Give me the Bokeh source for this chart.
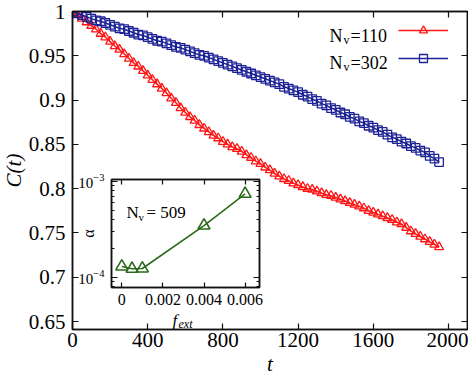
import math
from bokeh.plotting import figure
from bokeh.models import (Range1d, LinearAxis, LogAxis, FixedTicker, LogTickFormatter,
                          CustomJSTickFormatter, Label, Legend, LegendItem, Column)
from bokeh.embed import file_html
from bokeh.resources import INLINE

# ---------------- data ----------------
t = [0, 25, 50, 75, 100, 125, 150, 175, 200, 225, 250, 275, 300, 325, 350, 375,
     400, 425, 450, 475, 500, 525, 550, 575, 600, 625, 650, 675, 700, 725, 750, 775,
     800, 825, 850, 875, 900, 925, 950, 975, 1000, 1025, 1050, 1075, 1100, 1125, 1150,
     1175, 1200, 1225, 1250, 1275, 1300, 1325, 1350, 1375, 1400, 1425, 1450, 1475,
     1500, 1525, 1550, 1575, 1600, 1625, 1650, 1675, 1700, 1725, 1750, 1775, 1800,
     1825, 1850, 1875, 1900, 1925, 1950]

c_nv110 = [1.000, 0.997, 0.992, 0.988, 0.984, 0.980, 0.975, 0.971, 0.966, 0.961,
           0.957, 0.952, 0.947, 0.942, 0.938, 0.933, 0.928, 0.923, 0.918, 0.913,
           0.908, 0.902, 0.897, 0.891, 0.886, 0.881, 0.877, 0.872, 0.868, 0.864,
           0.860, 0.857, 0.853, 0.850, 0.847, 0.845, 0.842, 0.838, 0.835, 0.831,
           0.828, 0.824, 0.821, 0.817, 0.814, 0.811, 0.809, 0.806, 0.804, 0.802,
           0.800, 0.799, 0.797, 0.795, 0.793, 0.792, 0.790, 0.788, 0.786, 0.784,
           0.782, 0.780, 0.778, 0.775, 0.773, 0.771, 0.769, 0.767, 0.765, 0.762,
           0.760, 0.756, 0.752, 0.749, 0.746, 0.743, 0.740, 0.737, 0.734]

c_nv302 = [1.000, 0.998, 0.996, 0.994, 0.992, 0.990, 0.989, 0.987, 0.985, 0.983,
           0.981, 0.980, 0.978, 0.976, 0.974, 0.973, 0.971, 0.969, 0.967, 0.966,
           0.964, 0.962, 0.960, 0.959, 0.957, 0.955, 0.953, 0.951, 0.950, 0.948,
           0.946, 0.944, 0.942, 0.940, 0.938, 0.936, 0.934, 0.932, 0.930, 0.928,
           0.926, 0.924, 0.922, 0.920, 0.918, 0.915, 0.913, 0.911, 0.909, 0.906,
           0.904, 0.901, 0.899, 0.896, 0.894, 0.891, 0.889, 0.886, 0.884, 0.881,
           0.879, 0.876, 0.874, 0.871, 0.869, 0.866, 0.864, 0.861, 0.858, 0.856,
           0.853, 0.851, 0.848, 0.846, 0.843, 0.841, 0.837, 0.834, 0.830]

f_ext = [0.0, 0.0005, 0.001, 0.004, 0.006]
alpha = [1.30e-4, 1.23e-4, 1.24e-4, 3.46e-4, 7.38e-4]

x_ticks = [0, 400, 800, 1200, 1600, 2000]
y_ticks = [0.65, 0.7, 0.75, 0.8, 0.85, 0.9, 0.95, 1.0]
inset_x_ticks = [0, 0.002, 0.004, 0.006]
inset_y_ticks = [1e-4, 1e-3]
inset_y_minor = [8e-5, 9e-5, 2e-4, 3e-4, 4e-4, 5e-4, 6e-4, 7e-4, 8e-4, 9e-4]

legend_110 = ["N", "v", "=110"]
legend_302 = ["N", "v", "=302"]
inset_note = ["N", "v", "= 509"]

# ---------------- style ----------------
FONT = "Liberation Serif"
RED = "#ff1515"
BLUE = "#1c2296"
GREEN = "#2b6a1c"
AX = "#111111"

num_fmt = CustomJSTickFormatter(code="return String(parseFloat(tick.toFixed(4)));")
blank_fmt = CustomJSTickFormatter(code="return '';")

p = figure(frame_width=395, frame_height=318,
           x_range=Range1d(0, 2101), y_range=Range1d(0.641, 1.0),
           output_backend="svg", toolbar_location=None,
           min_border_left=72, min_border_right=3, min_border_top=11, min_border_bottom=53,
           margin=(0, 0, 0, -4))
p.grid.visible = False
p.outline_line_color = AX
p.outline_line_width = 1.5
p.background_fill_color = "white"
p.border_fill_color = "white"

def style_axis(ax, size, standoff, ticker, fmt, tick_len=6):
    ax.ticker = ticker
    ax.formatter = fmt
    ax.major_tick_in = tick_len
    ax.major_tick_out = 0
    ax.minor_tick_in = 0
    ax.minor_tick_out = 0
    ax.axis_line_color = AX
    ax.axis_line_width = 1.5
    ax.major_tick_line_color = AX
    ax.major_tick_line_width = 1.2
    ax.minor_tick_line_color = AX
    ax.major_label_text_font = FONT
    ax.major_label_text_font_size = size
    ax.major_label_text_color = "black"
    ax.major_label_standoff = standoff

style_axis(p.xaxis[0], "21px", 3, FixedTicker(ticks=x_ticks), num_fmt)
style_axis(p.yaxis[0], "21px", 7, FixedTicker(ticks=y_ticks), num_fmt)
p.xaxis[0].axis_label = "t"
p.yaxis[0].axis_label = "C(t)"
for ax in (p.xaxis[0], p.yaxis[0]):
    ax.axis_label_text_font = FONT
    ax.axis_label_text_font_style = "italic"
    ax.axis_label_text_font_size = "21px"
    ax.axis_label_text_color = "black"
p.xaxis[0].axis_label_standoff = 2
p.yaxis[0].axis_label_standoff = 0

top_ax = LinearAxis()
style_axis(top_ax, "0px", 0, FixedTicker(ticks=x_ticks), blank_fmt)
p.add_layout(top_ax, "above")
right_ax = LinearAxis()
style_axis(right_ax, "0px", 0, FixedTicker(ticks=y_ticks), blank_fmt)
p.add_layout(right_ax, "right")

r_line = p.line(t, c_nv110, line_color=RED, line_width=1.5)
r_pts = p.scatter(t, c_nv110, marker="triangle", size=9, line_color=RED,
                  fill_color=None, line_width=1.3)
b_line = p.line(t, c_nv302, line_color=BLUE, line_width=1.5)
b_pts = p.scatter(t, c_nv302, marker="square", size=8.5, line_color=BLUE,
                  fill_color=None, line_width=1.3)

leg = Legend(items=[LegendItem(label=" ", renderers=[r_line, r_pts]),
                    LegendItem(label=" ", renderers=[b_line, b_pts])],
             location=(326, 261), glyph_width=50, glyph_height=20, spacing=8,
             padding=0, margin=0, label_standoff=0, label_width=0, label_height=20,
             label_text_font_size="1px", border_line_color=None,
             background_fill_alpha=0)
p.add_layout(leg, "center")

def sub_label(fig, parts, x, y, size, sub_size, x_sub, x_rest, dy_sub):
    fig.add_layout(Label(x=x, y=y, x_units="screen", y_units="screen", text=parts[0],
                         text_font=FONT, text_font_size=size, text_baseline="alphabetic",
                         text_color="black"))
    fig.add_layout(Label(x=x_sub, y=y - dy_sub, x_units="screen", y_units="screen",
                         text=parts[1], text_font=FONT, text_font_size=sub_size,
                         text_baseline="alphabetic", text_color="black"))
    fig.add_layout(Label(x=x_rest, y=y, x_units="screen", y_units="screen", text=parts[2],
                         text_font=FONT, text_font_size=size, text_baseline="alphabetic",
                         text_color="black"))

sub_label(p, legend_110, 257, 294, "18px", "12px", 271, 278, 4)
sub_label(p, legend_302, 257, 267, "18px", "12px", 271, 278, 4)

# inset axis titles (placed on the main canvas, beside the inset box)
p.add_layout(Label(x=16, y=96, x_units="screen", y_units="screen", text="α",
                   angle=math.pi / 2, text_font=FONT, text_font_size="16px",
                   text_align="center", text_baseline="middle", text_color="black"))
p.add_layout(Label(x=100, y=9, x_units="screen", y_units="screen", text="f",
                   text_font=FONT, text_font_style="italic", text_font_size="17px",
                   text_baseline="alphabetic", text_color="black"))
p.add_layout(Label(x=106, y=6, x_units="screen", y_units="screen", text="ext",
                   text_font=FONT, text_font_style="italic", text_font_size="12px",
                   text_baseline="alphabetic", text_color="black"))

# ---------------- inset ----------------
ins = figure(frame_width=148, frame_height=108,
             x_range=Range1d(-0.0005, 0.0067), y_range=Range1d(7.87e-5, 1.04e-3),
             y_axis_type="log", output_backend="svg", toolbar_location=None,
             min_border_left=76, min_border_right=12, min_border_top=8, min_border_bottom=45,
             margin=(-211, 0, 50, 35))
ins.grid.visible = False
ins.border_fill_color = None
ins.background_fill_color = "white"
ins.outline_line_color = AX
ins.outline_line_width = 1.5

style_axis(ins.xaxis[0], "16px", 6, FixedTicker(ticks=inset_x_ticks),
           CustomJSTickFormatter(code="return tick == 0 ? '0' : tick.toFixed(3);"), tick_len=5)
style_axis(ins.yaxis[0], "15px", 7,
           FixedTicker(ticks=inset_y_ticks, minor_ticks=inset_y_minor),
           LogTickFormatter(), tick_len=6)
ins.yaxis[0].minor_tick_in = 3

itop = LinearAxis()
style_axis(itop, "0px", 0, FixedTicker(ticks=inset_x_ticks), blank_fmt, tick_len=5)
ins.add_layout(itop, "above")
iright = LogAxis()
style_axis(iright, "0px", 0, FixedTicker(ticks=inset_y_ticks, minor_ticks=inset_y_minor),
           blank_fmt, tick_len=6)
iright.minor_tick_in = 3
ins.add_layout(iright, "right")

ins.line(f_ext, alpha, line_color=GREEN, line_width=1.6)
ins.scatter(f_ext, alpha, marker="triangle", size=12, line_color=GREEN,
            fill_color=None, line_width=1.6)

sub_label(ins, inset_note, 15, 75, "17px", "11px", 27, 35, 4)

layout = Column(children=[p, ins], width=474, height=382,
                styles={"overflow": "hidden"})
open("out.html", "w").write(file_html(layout, INLINE))
